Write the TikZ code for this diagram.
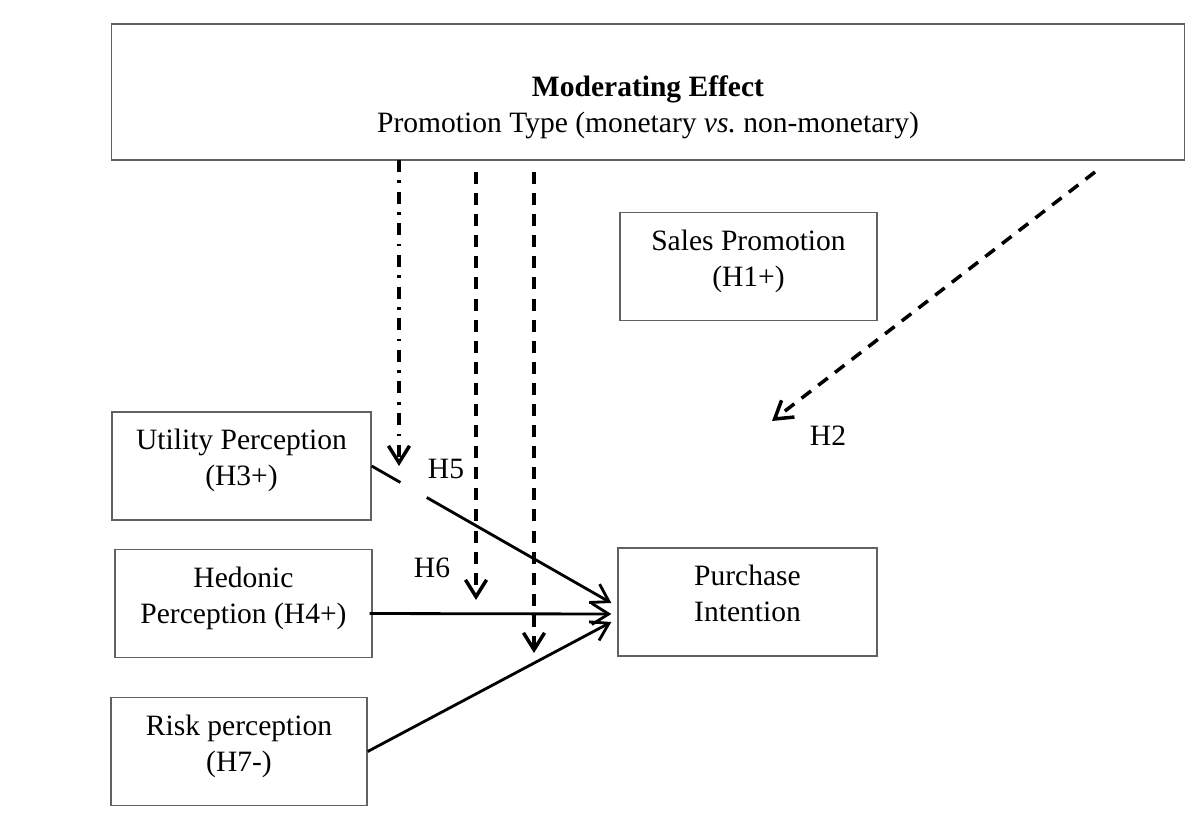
\documentclass[tikz,border=0pt]{standalone}
\usepackage{fontspec}
\setmainfont{Liberation Serif}
\usetikzlibrary{arrows.meta, calc, positioning}
\definecolor{boxgrey}{rgb}{0.38, 0.38, 0.38}

\begin{document}
\begin{tikzpicture}[
		x=0.025cm, y=-0.025cm,
		texts/.style = {text=black, font=\fontsize{21}{25.5}\selectfont},
		boxline/.style = {draw=boxgrey, line width=0.9pt},
		construct/.style = {texts, boxline, rectangle, align=center, inner sep=0pt, text depth=12pt, minimum width=6.425cm, minimum height=2.7cm},
		openhead/.style = {-{Straight Barb[length=12pt, width=15pt]}},
		effectline/.style = {draw=black, line width=2pt, openhead},
		moderline/.style = {effectline, line width=2.5pt, dash pattern=on 8.5pt off 6.5pt},
		dotmoderline/.style = {effectline, line width=2.5pt, dash pattern=on 8.5pt off 6pt on 2pt off 6pt}
		]
		\useasboundingbox (0,0) rectangle (1200,828);
		\node[construct, minimum width=26.8cm, minimum height=3.4cm, text height=63pt, text depth=5pt] (moder) at (648,92) {\textbf{Moderating Effect}\\Promotion Type (monetary \textit{vs.}\ non-monetary)};
		\node[construct] (sales) at (748.5,266.5) {Sales Promotion\\(H1+)};
		\node[construct, minimum width=6.475cm] (util) at (241.5,466) {Utility Perception\\(H3+)};
		\node[construct] (hedon) at (243.5,603.5) {Hedonic\\Perception (H4+)};
		\node[construct, minimum width=6.4cm] (risk) at (239,751.5) {Risk perception\\(H7-)};
		\node[construct, minimum width=6.475cm] (purch) at (747.5,602) {Purchase\\Intention};
		
		% free ends of the moderating arrows
		\coordinate (hfivetop) at (399,160);
		\coordinate (hfiveend) at (399,466);
		\coordinate (hsixtop) at (476,172);
		\coordinate (hsixend) at (476,600);
		\coordinate (hsevtop) at (534,172);
		\coordinate (hsevend) at (534,653);
		\coordinate (htwotop) at (1095,172);
		\coordinate (htwoend) at (772,421);
		
		\draw[draw=black, line width=2pt] (util.east) -- ($(util.east)!0.12!($(purch.west)+(-6,1)$)$);
		\draw[effectline] ($(util.east)!0.23!($(purch.west)+(-6,1)$)$) -- ($(purch.west)+(-6,1)$);
		\draw[effectline] ($(hedon.east)+(-3,10)$) -- ($(purch.west)+(-6,12)$);
		\draw[effectline] (risk.east) -- ($(purch.west)+(-6,20)$);
		
		\draw[dotmoderline] (hfivetop) -- (hfiveend);
		\draw[moderline] (hsixtop) -- (hsixend);
		\draw[moderline] (hsevtop) -- (hsevend);
		\draw[moderline] (htwotop) -- (htwoend);
		
		\node[texts] (hfive) at (446,469) {H5};
		\node[texts] (hsix) at (432,568) {H6};
		\node[texts] (htwo) at (828,436) {H2};
\end{tikzpicture}
\end{document}
